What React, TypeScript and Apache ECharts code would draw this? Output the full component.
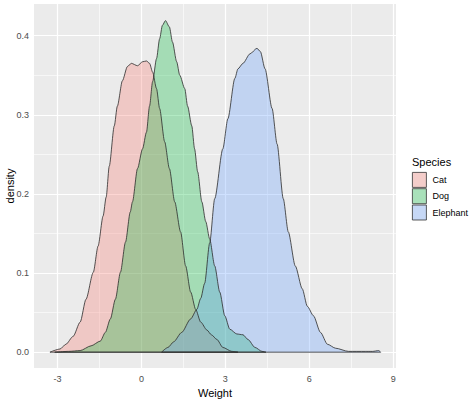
import { useEffect, useRef } from 'react'
import * as echarts from 'echarts'

// density curves: [weight, density]
const species = ['Cat', 'Dog', 'Elephant']

const catDensity: number[][] = [
  [-3.27, 0], [-2.91, 0.004], [-2.7, 0.01], [-2.44, 0.02], [-2.19, 0.038], [-1.98, 0.067],
  [-1.72, 0.101], [-1.55, 0.134], [-1.37, 0.172], [-1.26, 0.196], [-1.15, 0.235], [-0.97, 0.286],
  [-0.86, 0.311], [-0.68, 0.343], [-0.5, 0.361], [-0.36, 0.365], [-0.14, 0.362], [0.04, 0.367],
  [0.18, 0.368], [0.29, 0.365], [0.4, 0.354], [0.54, 0.333], [0.65, 0.308], [0.83, 0.266],
  [1.0, 0.232], [1.19, 0.19], [1.4, 0.152], [1.58, 0.109], [1.76, 0.076], [1.94, 0.054],
  [2.12, 0.038], [2.34, 0.028], [2.5, 0.022], [2.7, 0.016], [2.91, 0.006], [3.23, 0.001], [3.45, 0]
]

const dogDensity: number[][] = [
  [-3.1, 0], [-2.6, 0.001], [-2.19, 0.002], [-1.8, 0.008], [-1.47, 0.014], [-1.29, 0.025],
  [-1.11, 0.042], [-0.93, 0.067], [-0.75, 0.101], [-0.57, 0.139], [-0.4, 0.177], [-0.32, 0.19],
  [-0.14, 0.232], [0.04, 0.257], [0.18, 0.278], [0.29, 0.311], [0.4, 0.342], [0.54, 0.371],
  [0.65, 0.396], [0.75, 0.413], [0.86, 0.419], [1.0, 0.411], [1.11, 0.392], [1.26, 0.367],
  [1.37, 0.35], [1.55, 0.333], [1.65, 0.311], [1.8, 0.286], [1.9, 0.257], [2.01, 0.228],
  [2.16, 0.19], [2.3, 0.165], [2.44, 0.143], [2.62, 0.109], [2.8, 0.076], [2.98, 0.046],
  [3.16, 0.029], [3.41, 0.023], [3.63, 0.022], [3.81, 0.016], [4.06, 0.006], [4.31, 0.001], [4.45, 0]
]

const elephantDensity: number[][] = [
  [0.72, 0], [0.95, 0.006], [1.15, 0.013], [1.44, 0.025], [1.76, 0.042], [1.98, 0.054],
  [2.12, 0.068], [2.26, 0.087], [2.44, 0.138], [2.62, 0.194], [2.91, 0.257], [3.09, 0.295],
  [3.34, 0.346], [3.45, 0.358], [3.63, 0.365], [3.88, 0.377], [4.13, 0.384], [4.25, 0.38],
  [4.42, 0.358], [4.67, 0.308], [4.85, 0.263], [5.07, 0.194], [5.25, 0.152], [5.5, 0.109],
  [5.75, 0.08], [5.93, 0.058], [6.15, 0.046], [6.4, 0.025], [6.65, 0.01], [6.94, 0.005],
  [7.4, 0.001], [8.0, 0.001], [8.26, 0.001], [8.48, 0.002], [8.55, 0]
]

const xTicks = [-3, 0, 3, 6, 9]
const xMinorTicks = [-1.5, 1.5, 4.5, 7.5]
const yTicks = [0, 0.1, 0.2, 0.3, 0.4]
const yMinorTicks = [0.05, 0.15, 0.25, 0.35]

const fills = ['rgba(248,118,109,0.3)', 'rgba(0,186,56,0.3)', 'rgba(97,156,255,0.3)']
const keyFills = ['#F4CDCA', '#A9E1BA', '#C6D8F6']

const FONT = '"Liberation Sans", Arial, sans-serif'

export default function App() {
  const chartRef = useRef<HTMLDivElement>(null)

  useEffect(() => {
    if (!chartRef.current) return
    const chart = echarts.init(chartRef.current, null, { renderer: 'svg' })

    const curves = [catDensity, dogDensity, elephantDensity]

    // panel grid lines (white, major + minor) drawn as mark lines under the areas
    const gridLines = [
      ...xMinorTicks.map(v => ({ xAxis: v, lineStyle: { width: 0.6 } })),
      ...yMinorTicks.map(v => ({ yAxis: v, lineStyle: { width: 0.6 } })),
      ...xTicks.map(v => ({ xAxis: v, lineStyle: { width: 1.2 } })),
      ...yTicks.map(v => ({ yAxis: v, lineStyle: { width: 1.2 } }))
    ]

    const areaSeries = curves.map((d, i) => ({
      name: species[i],
      type: 'line' as const,
      data: d,
      z: 3,
      showSymbol: false,
      symbol: 'none',
      smooth: 0.25,
      smoothMonotone: 'x' as const,
      lineStyle: { color: '#2b2b2b', width: 0.8 },
      itemStyle: { color: keyFills[i] },
      areaStyle: { color: fills[i], origin: 0, opacity: 1 }
    }))

    // baseline outline along density = 0
    const baseSeries = curves.map((d, i) => ({
      name: species[i] + ' base',
      type: 'line' as const,
      data: [[d[0][0], 0], [d[d.length - 1][0], 0]],
      z: 3,
      showSymbol: false,
      symbol: 'none',
      lineStyle: { color: '#2b2b2b', width: 0.8 }
    }))

    const option: any = {
      animation: false,
      backgroundColor: '#ffffff',
      textStyle: { fontFamily: FONT },
      title: {
        text: 'Species',
        left: 412,
        top: 156,
        padding: 0,
        textStyle: { fontSize: 11, fontWeight: 'normal', color: '#000', fontFamily: FONT }
      },
      legend: {
        data: species.map((s, i) => ({
          name: s,
          itemStyle: { color: keyFills[i], borderColor: '#333', borderWidth: 0.8 }
        })),
        orient: 'vertical',
        left: 412,
        top: 172,
        padding: 0,
        icon: 'rect',
        itemWidth: 14,
        itemHeight: 15,
        itemGap: 0.5,
        selectedMode: false,
        textStyle: { fontSize: 9, color: '#000', fontFamily: FONT, padding: [0, 0, 0, 1] }
      },
      grid: {
        left: 34,
        right: 78,
        top: 4,
        bottom: 33,
        show: true,
        backgroundColor: '#EBEBEB',
        borderWidth: 0,
        containLabel: false,
        outerBoundsMode: 'none'
      },
      xAxis: {
        type: 'value',
        min: -3.84,
        max: 9.1,
        name: 'Weight',
        nameLocation: 'middle',
        nameGap: 17,
        nameTextStyle: { fontSize: 11, color: '#000', fontFamily: FONT },
        axisLine: { show: false },
        axisTick: { show: true, length: 3, lineStyle: { color: '#333', width: 1 }, customValues: xTicks },
        axisLabel: {
          customValues: xTicks,
          margin: 6,
          fontSize: 9,
          color: '#4D4D4D',
          fontFamily: FONT,
          formatter: (v: number) => String(v)
        },
        splitLine: { show: false }
      },
      yAxis: {
        type: 'value',
        min: -0.02,
        max: 0.44,
        name: 'density',
        nameLocation: 'middle',
        nameRotate: 90,
        nameGap: 19,
        nameMoveOverlap: false,
        nameTextStyle: { fontSize: 11, color: '#000', fontFamily: FONT },
        axisLine: { show: false },
        axisTick: { show: true, length: 3, lineStyle: { color: '#333', width: 1 }, customValues: yTicks },
        axisLabel: {
          customValues: yTicks,
          margin: 5,
          fontSize: 9,
          color: '#4D4D4D',
          fontFamily: FONT,
          formatter: (v: number) => v.toFixed(1)
        },
        splitLine: { show: false }
      },
      series: [
        {
          name: 'grid',
          type: 'line',
          data: [],
          z: 1,
          silent: true,
          markLine: {
            silent: true,
            z: 1,
            symbol: ['none', 'none'],
            label: { show: false },
            lineStyle: { color: '#ffffff', type: 'solid' },
            emphasis: { disabled: true },
            data: gridLines
          }
        },
        ...areaSeries,
        ...baseSeries
      ]
    }

    chart.setOption(option)

    return () => {
      chart.dispose()
    }
  }, [])

  return (
    <div
      ref={chartRef}
      style={{ position: 'fixed', left: 0, top: 0, width: '474px', height: '401px', background: '#fff' }}
    />
  )
}
